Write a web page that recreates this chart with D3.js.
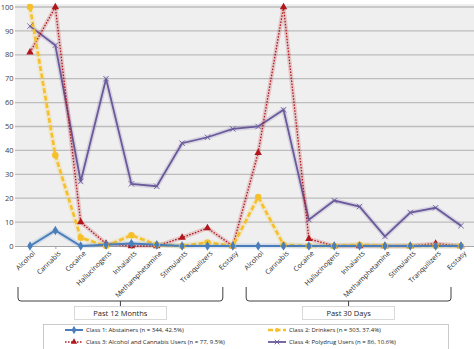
<!DOCTYPE html>
<html>
<head>
<meta charset="utf-8">
<script src="https://cdn.jsdelivr.net/npm/d3@7"></script>
<style>
  body { margin: 0; background: #fff; }
  svg { display: block; }
</style>
</head>
<body>
<svg id="chart" width="474" height="349"></svg>
<script>
// substances, repeated for both time frames
const substances = ["Alcohol", "Cannabis", "Cocaine", "Hallucinogens", "Inhalants",
  "Methamphetamine", "Stimulants", "Tranquilizers", "Ecstasy"];
const periods = ["Past 12 Months", "Past 30 Days"];
const yTicks = [0, 10, 20, 30, 40, 50, 60, 70, 80, 90, 100];

// values: first 9 = past 12 months, last 9 = past 30 days
const abstainers = [0, 6.5, 0, 0.5, 1, 0.5, 0, 0, 0,   0, 0, 0, 0, 0, 0, 0, 0, 0];
const drinkers   = [100, 38, 3.5, 0, 4.5, 0.5, 0, 1.5, 0,   20.5, 0.5, 0, 0, 0.5, 0, 0, 0, 0];
const alcCannabis = [81, 100, 10, 1, 0, 0, 3.5, 7.5, 0,   39, 100, 3, 0, 0, 0, 0, 1, 0];
const polydrug   = [92, 84, 27, 70, 26, 25, 43, 45.5, 49,   50, 57, 11, 19, 16.5, 4, 14, 16, 8.5];

const classNames = [
  "Class 1: Abstainers (n = 344, 42.5%)",
  "Class 2: Drinkers (n = 303, 37.4%)",
  "Class 3: Alcohol and Cannabis Users (n = 77, 9.5%)",
  "Class 4: Polydrug Users (n = 86, 10.6%)"
];

const series = [
  { name: classNames[0], values: abstainers, color: "#4a7ebb", width: 2, dash: null, marker: "diamond" },
  { name: classNames[1], values: drinkers, color: "#f5c02a", width: 2.6, dash: "5,2.5", marker: "circle" },
  { name: classNames[2], values: alcCannabis, color: "#b0161c", width: 1.3, dash: "1.5,1.5", marker: "triangle" },
  { name: classNames[3], values: polydrug, color: "#6a5a9c", width: 1.8, dash: null, marker: "cross" }
];
// draw order like the original: polydrug under the rest
const drawOrder = [3, 2, 1, 0];

const keys = d3.range(substances.length * periods.length);
const svg = d3.select("#chart").attr("font-family", "'Open Sans', 'Noto Sans', sans-serif");

const x = d3.scalePoint().domain(keys).range([30, 461]);
const y = d3.scaleLinear().domain([0, 100]).range([246, 7]);

// plot area
svg.append("rect")
    .attr("x", 15).attr("y", 4)
    .attr("width", 474 - 15).attr("height", y(0) - 4)
    .attr("fill", "#efefef");

svg.append("g")
  .selectAll("line")
  .data(yTicks.filter(d => d > 0))
  .join("line")
    .attr("x1", 15).attr("x2", 474)
    .attr("y1", d => y(d)).attr("y2", d => y(d))
    .attr("stroke", "#bdbdbd")
    .attr("stroke-width", 1.3);

// y axis labels
svg.append("g")
    .attr("font-size", 7.5)
    .attr("fill", "#404040")
    .attr("text-anchor", "end")
  .selectAll("text")
  .data(yTicks)
  .join("text")
    .attr("x", 13.5)
    .attr("y", d => y(d))
    .attr("dy", "0.35em")
    .text(d => d);

// x axis
const xAxis = svg.append("g")
    .attr("transform", `translate(0,${y(0)})`)
    .call(d3.axisBottom(x).tickSize(3).tickFormat(""));
xAxis.select(".domain").attr("d", "M15,0.5H474").attr("stroke", "#a6a6a6").attr("stroke-width", 1.2);
xAxis.selectAll(".tick line").attr("stroke", "#a6a6a6");

svg.append("g")
    .attr("font-size", 7)
    .attr("fill", "#262626")
    .attr("text-anchor", "end")
  .selectAll("text")
  .data(keys)
  .join("text")
    .attr("transform", d => `translate(${x(d) + 4},${y(0) + 6}) rotate(-45)`)
    .attr("dy", "0.35em")
    .text(d => substances[d % substances.length]);

// lines
const line = d3.line().x((d, i) => x(i)).y(d => y(d));

const lines = svg.append("g");
drawOrder.forEach(k => {
  const s = series[k];
  // soft glow like the spreadsheet effect
  lines.append("path")
      .datum(s.values)
      .attr("d", line)
      .attr("fill", "none")
      .attr("stroke", s.color)
      .attr("stroke-opacity", 0.18)
      .attr("stroke-width", s.width + 3)
      .attr("stroke-linejoin", "round");
  lines.append("path")
      .datum(s.values)
      .attr("d", line)
      .attr("fill", "none")
      .attr("stroke", s.color)
      .attr("stroke-width", s.width)
      .attr("stroke-dasharray", s.dash);
});

function drawMarker(g, type, color, size) {
  if (type === "diamond") {
    g.append("path").attr("d", d3.symbol(d3.symbolDiamond, size * 9)()).attr("fill", color);
  } else if (type === "circle") {
    g.append("circle").attr("r", size * 0.9).attr("fill", color);
  } else if (type === "triangle") {
    g.append("path").attr("d", d3.symbol(d3.symbolTriangle, size * 8)()).attr("fill", color);
  } else {
    g.append("path").attr("d", d3.symbol(d3.symbolX, size * 7)()).attr("fill", "none")
      .attr("stroke", color).attr("stroke-width", 0.9);
  }
}

drawOrder.forEach(k => {
  const s = series[k];
  svg.append("g")
    .selectAll("g")
    .data(s.values)
    .join("g")
      .attr("transform", (d, i) => `translate(${x(i)},${y(d)})`)
      .each(function () { drawMarker(d3.select(this), s.marker, s.color, s.marker === "circle" ? 3.6 : 3); });
});

// brackets and period boxes
const brackets = svg.append("g");
periods.forEach((p, pi) => {
  const x0 = x(pi * 9) - 12, x1 = x(pi * 9 + 8) - 10;
  const xm = (x0 + x1) / 2;
  brackets.append("path")
      .attr("d", `M${x0},287V298Q${x0},301 ${x0 + 3},301H${x1 - 3}Q${x1},301 ${x1},298V287M${xm},301V306`)
      .attr("fill", "none")
      .attr("stroke", "#404040")
      .attr("stroke-width", 1);
  brackets.append("rect")
      .attr("x", xm - 46).attr("y", 306.5)
      .attr("width", 92).attr("height", 13)
      .attr("fill", "#fff")
      .attr("stroke", "#d0d0d0")
      .attr("stroke-width", 0.8);
  brackets.append("text")
      .attr("x", xm).attr("y", 313)
      .attr("dy", "0.35em")
      .attr("text-anchor", "middle")
      .attr("font-size", 7.5)
      .attr("fill", "#262626")
      .text(p);
});

// legend
const legend = svg.append("g");
legend.append("rect")
    .attr("x", 43.5).attr("y", 324.5)
    .attr("width", 405).attr("height", 30)
    .attr("fill", "#fff")
    .attr("stroke", "#bfbfbf")
    .attr("stroke-width", 0.8);

series.forEach((s, k) => {
  const lx = k % 2 === 0 ? 65 : 268;
  const ly = k < 2 ? 330 : 342;
  const g = legend.append("g").attr("transform", `translate(${lx},${ly})`);
  g.append("line")
      .attr("x1", 0).attr("x2", 18)
      .attr("stroke", s.color)
      .attr("stroke-width", s.width)
      .attr("stroke-dasharray", s.dash);
  const m = g.append("g").attr("transform", "translate(9,0)");
  drawMarker(m, s.marker, s.color, 2.2);
  g.append("text")
      .attr("x", 21)
      .attr("dy", "0.35em")
      .attr("font-size", 6)
      .attr("fill", "#262626")
      .text(s.name);
});
</script>
</body>
</html>
